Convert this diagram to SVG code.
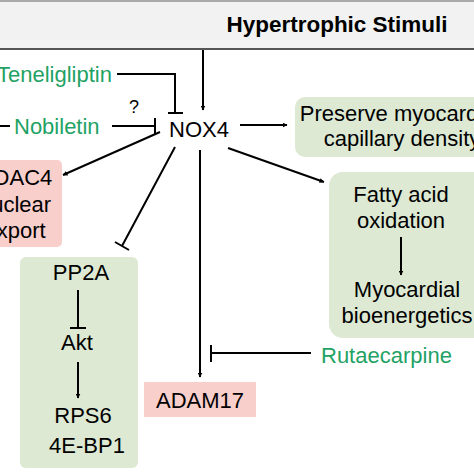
<svg xmlns="http://www.w3.org/2000/svg" width="474" height="474" viewBox="0 0 474 474">
<defs>
<marker id="arr" viewBox="0 0 10 10" refX="9" refY="5" markerWidth="5" markerHeight="5" orient="auto" markerUnits="userSpaceOnUse">
<path d="M0,0 L10,5 L0,10 z" fill="#000"/>
</marker>
</defs>
<style>
text{font-family:"Liberation Sans",Arial,sans-serif;font-size:22px;fill:#000}
.g{fill:#1fa264}
.gb{fill:#dde9d3}
.pk{fill:#f9cfcc}
.ln{stroke:#000;stroke-width:2;fill:none}
.ar{marker-end:url(#arr)}
</style>
<rect width="474" height="474" fill="#fff"/>
<g id="stimuli">
<rect x="0" y="0" width="474" height="2" fill="#aaa"/>
<rect x="0" y="2" width="474" height="46" fill="#f2f2f2"/>
<rect x="0" y="48" width="474" height="2" fill="#555"/>
<text x="337" y="32" text-anchor="middle" font-weight="bold" textLength="221" lengthAdjust="spacingAndGlyphs">Hypertrophic Stimuli</text>
</g>
<g id="teneligliptin"><text class="g" x="-3" y="82">Teneligliptin</text></g>
<g id="nobiletin"><text class="g" x="14" y="134">Nobiletin</text></g>
<g id="nox4"><text x="199" y="137" text-anchor="middle">NOX4</text></g>
<g id="preserve">
<rect class="gb" x="295" y="97" width="200" height="60" rx="10"/>
<text x="400" y="121" text-anchor="middle">Preserve myocardial</text>
<text x="402" y="146" text-anchor="middle">capillary density</text>
</g>
<g id="hdac4">
<rect class="pk" x="-10" y="160" width="72" height="87" rx="5"/>
<text x="15" y="185" text-anchor="middle">HDAC4</text>
<text x="15" y="212" text-anchor="middle">nuclear</text>
<text x="15" y="238" text-anchor="middle">export</text>
</g>
<g id="fatty">
<rect class="gb" x="329" y="172" width="160" height="166" rx="14"/>
<text x="401" y="202" text-anchor="middle">Fatty acid</text>
<text x="401" y="228" text-anchor="middle">oxidation</text>
<text x="407" y="297" text-anchor="middle">Myocardial</text>
<text x="407" y="323" text-anchor="middle">bioenergetics</text>
</g>
<g id="pp2a">
<rect class="gb" x="20" y="257" width="118" height="211" rx="6"/>
<text x="81" y="280" text-anchor="middle">PP2A</text>
<text x="77" y="350" text-anchor="middle">Akt</text>
<text x="83" y="423" text-anchor="middle">RPS6</text>
<text x="87" y="453" text-anchor="middle">4E-BP1</text>
</g>
<g id="adam17">
<rect class="pk" x="144" y="382" width="112" height="35"/>
<text x="200" y="408" text-anchor="middle">ADAM17</text>
</g>
<g id="rutaecarpine"><text class="g" x="321" y="363">Rutaecarpine</text></g>
<g id="question"><text x="134" y="113" text-anchor="middle" style="font-size:18px">?</text></g>
<g id="connectors">
<path class="ln" d="M117,74 H175 V113 M168,113 H183"/>
<path class="ln ar" d="M203,50 V110"/>
<path class="ln" d="M0,126 H10"/>
<path class="ln" d="M112,126 H155 M155,118 V134"/>
<path class="ln ar" d="M240,125 H287"/>
<path class="ln ar" d="M160,132 L63,175"/>
<path class="ln" d="M175,147 L122,246 M115,242 L129,250"/>
<path class="ln ar" d="M200,150 V377"/>
<path class="ln ar" d="M228,148 L324,182"/>
<path class="ln ar" d="M401,237 V275"/>
<path class="ln" d="M78,290 V328 M70,328 H86"/>
<path class="ln ar" d="M78,362 V398"/>
<path class="ln" d="M311,353 H211 M211,345 V362"/>
</g>
</svg>
